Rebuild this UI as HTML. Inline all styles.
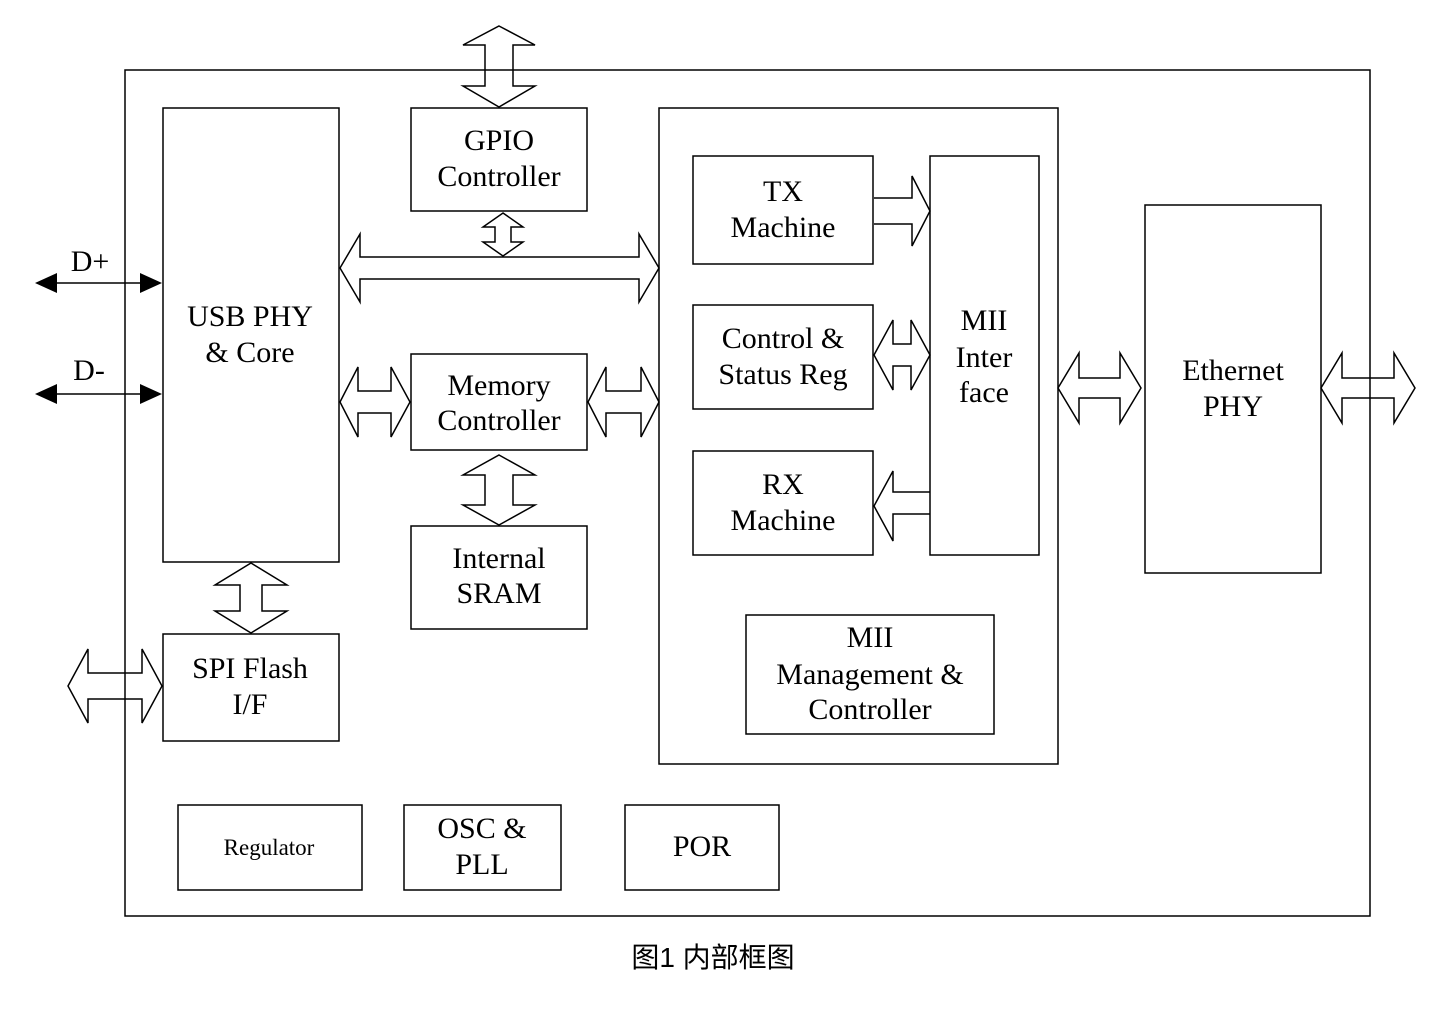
<!DOCTYPE html>
<html><head><meta charset="utf-8"><style>
html,body{margin:0;padding:0;background:#fff;}
svg{display:block;}
text{font-family:"Liberation Serif",serif;font-size:30px;fill:#000;text-anchor:middle;}
</style></head><body>
<svg width="1456" height="1016" viewBox="0 0 1456 1016" xmlns="http://www.w3.org/2000/svg">
<g fill="none" stroke="#000" stroke-width="1.5">
<rect x="125" y="70" width="1245" height="846"/>
<rect x="163" y="108" width="176" height="454"/>
<rect x="411" y="108" width="176" height="103"/>
<rect x="411" y="354" width="176" height="96"/>
<rect x="411" y="526" width="176" height="103"/>
<rect x="163" y="634" width="176" height="107"/>
<rect x="659" y="108" width="399" height="656"/>
<rect x="693" y="156" width="180" height="108"/>
<rect x="693" y="305" width="180" height="104"/>
<rect x="693" y="451" width="180" height="104"/>
<rect x="930" y="156" width="109" height="399"/>
<rect x="746" y="615" width="248" height="119"/>
<rect x="1145" y="205" width="176" height="368"/>
<rect x="178" y="805" width="184" height="85"/>
<rect x="404" y="805" width="157" height="85"/>
<rect x="625" y="805" width="154" height="85"/>
<polygon points="340,268 360,234 360,257 639,257 639,234 659,268 639,302 639,279 360,279 360,302"/>
<polygon points="340,402 358,367 358,391 391,391 391,367 410,402 391,437 391,413 358,413 358,437"/>
<polygon points="588,402 606,367 606,391 641,391 641,367 659,402 641,437 641,413 606,413 606,437"/>
<polygon points="68,686 88,649 88,673 142,673 142,649 162,686 142,723 142,699 88,699 88,723"/>
<polygon points="874,355 893,320 893,344 911,344 911,320 930,355 911,390 911,366 893,366 893,390"/>
<polygon points="1058,388 1079,353 1079,378 1120,378 1120,353 1141,388 1120,423 1120,398 1079,398 1079,423"/>
<polygon points="1321,388 1342,353 1342,378 1394,378 1394,353 1415,388 1394,423 1394,398 1342,398 1342,423"/>
<polyline points="874,198 912,198 912,176 930,211 912,246 912,224 874,224"/>
<polyline points="930,492 893,492 893,471 874,506 893,541 893,514 930,514"/>
<polygon points="499,26 535,45 513,45 513,86 535,86 499,107 463,86 485,86 485,45 463,45"/>
<polygon points="503,213 523,227 511,227 511,242 523,242 503,256 483,242 495,242 495,227 483,227"/>
<polygon points="499,455 535,475 513,475 513,505 535,505 499,525 463,505 485,505 485,475 463,475"/>
<polygon points="251,563 287,585 262,585 262,611 287,611 251,633 215,611 240,611 240,585 215,585"/>
<line x1="55" y1="283" x2="142" y2="283"/>
<line x1="55" y1="394" x2="142" y2="394"/>
</g>
<g fill="#000">
<polygon points="35,283 57,273 57,293"/>
<polygon points="162,283 140,273 140,293"/>
<polygon points="35,394 57,384 57,404"/>
<polygon points="162,394 140,384 140,404"/>
</g>
<text x="90" y="271">D+</text>
<text x="89" y="380">D-</text>
<text x="250" y="326">USB PHY</text>
<text x="250" y="362">&amp; Core</text>
<text x="499" y="150">GPIO</text>
<text x="499" y="186">Controller</text>
<text x="499" y="395">Memory</text>
<text x="499" y="430">Controller</text>
<text x="499" y="568">Internal</text>
<text x="499" y="603">SRAM</text>
<text x="250" y="678">SPI Flash</text>
<text x="250" y="714">I/F</text>
<text x="783" y="201">TX</text>
<text x="783" y="237">Machine</text>
<text x="783" y="348">Control &amp;</text>
<text x="783" y="384">Status Reg</text>
<text x="783" y="494">RX</text>
<text x="783" y="530">Machine</text>
<text x="984" y="330">MII</text>
<text x="984" y="367">Inter</text>
<text x="984" y="402">face</text>
<text x="870" y="647">MII</text>
<text x="870" y="684">Management &amp;</text>
<text x="870" y="719">Controller</text>
<text x="1233" y="380">Ethernet</text>
<text x="1233" y="416">PHY</text>
<text x="269" y="855" style="font-size:23px">Regulator</text>
<text x="482" y="838">OSC &amp;</text>
<text x="482" y="874">PLL</text>
<text x="702" y="856">POR</text>
<text x="713" y="967" style='font-family:"Liberation Sans","Noto Sans CJK SC",sans-serif;font-size:28px'>图1 内部框图</text>
</svg>
</body></html>
